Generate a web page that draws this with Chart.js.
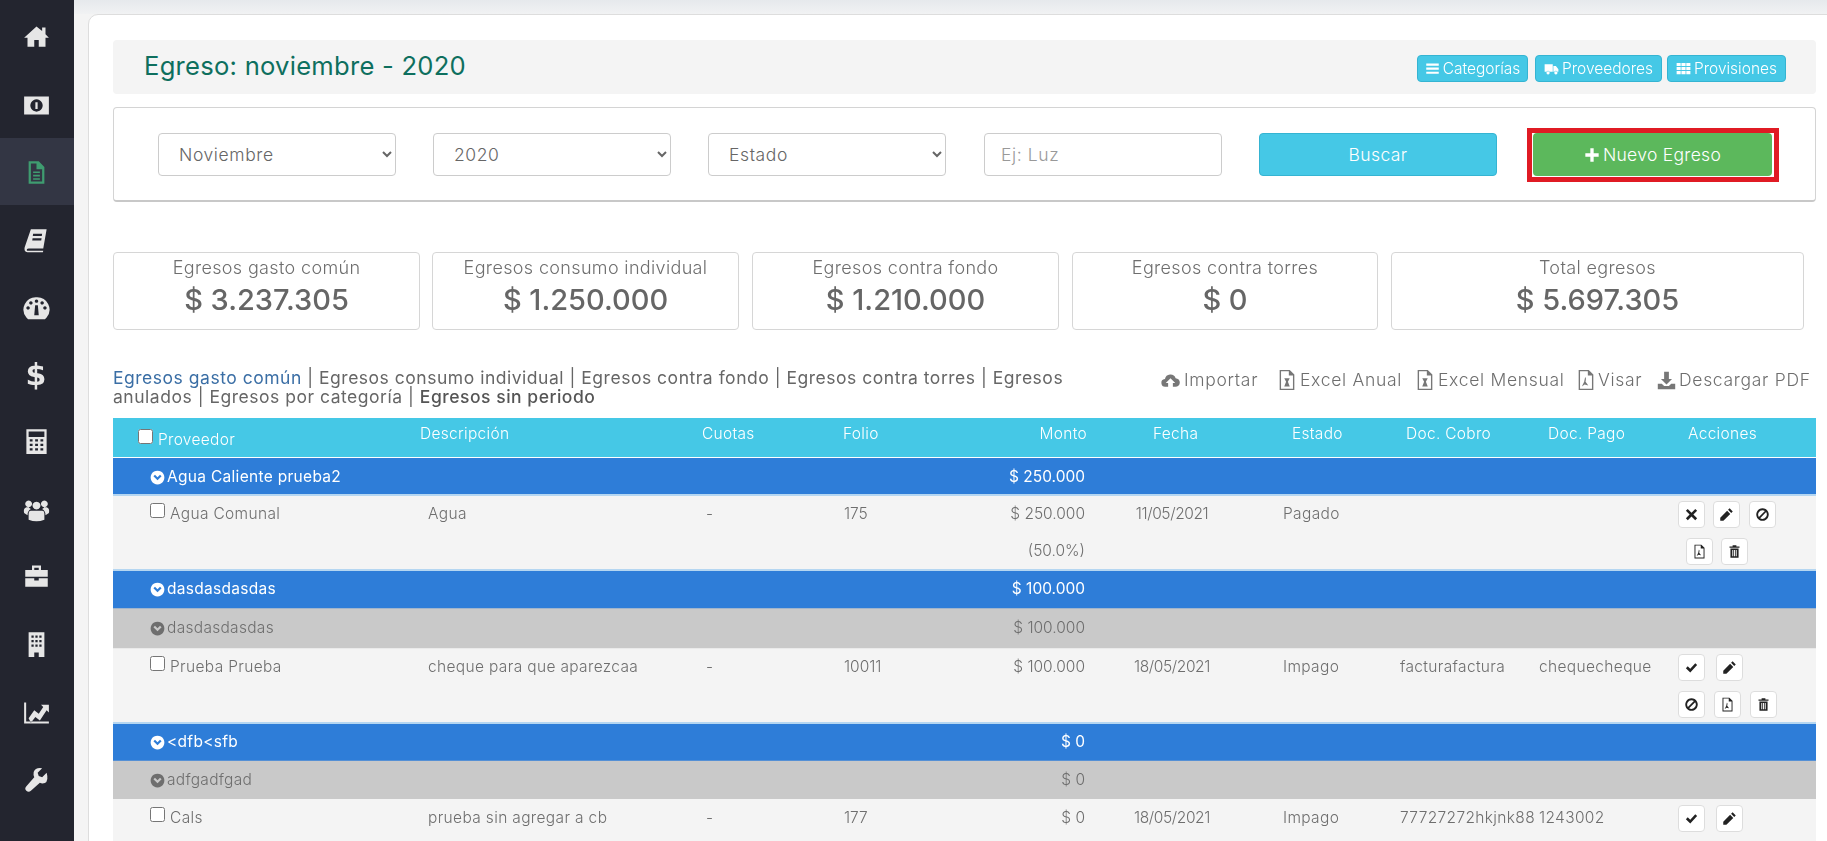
<!DOCTYPE html>
<html lang="es">
<head>
<meta charset="utf-8">
<title>Egreso: noviembre - 2020</title>
<script src="https://cdn.jsdelivr.net/npm/chart.js@4"></script>
<style>
html, body { margin: 0; width: 1827px; height: 841px; overflow: hidden; background: #f4f4f4; }
body { font-family: Inter, "Open Sans", sans-serif; font-weight: 300; color: #6e6e6e; position: relative; }
.abs, .t { position: absolute; }
.t { white-space: nowrap; transform: translateY(-50%); line-height: 1.2; }
.r { transform: translate(-100%, -50%); }
.c { transform: translate(-50%, -50%); }
.btn { position: absolute; border-radius: 4px; color: #fff; display: flex; align-items: center; justify-content: center; box-sizing: border-box; }
.info { background: #45c8e6; border: 1px solid #35b4d2; }
select, input[type=text] { position: absolute; box-sizing: border-box; height: 43px; width: 238px; top: 133px; font: 300 17.5px Inter, sans-serif; letter-spacing: .6px; color: #666; background: #fff; border: 1px solid #ccc; border-radius: 4px; padding-left: 16px; }
input[type=text]::placeholder { color: #999; }
.kpi { position: absolute; top: 252px; height: 78px; box-sizing: border-box; border: 1px solid #d6d6d6; border-radius: 4px; background: #fff; }
.acc { position: absolute; width: 27px; height: 27px; box-sizing: border-box; background: #fff; border: 1px solid #ddd; border-radius: 4px; display: flex; align-items: center; justify-content: center; }
input[type=checkbox] { position: absolute; margin: 0; width: 15px; height: 15px; }
</style>
</head>
<body>
<div class="abs" style="left:0;top:0;width:1827px;height:14px;background:linear-gradient(#e6e9ec,#f1f2f3)"></div>
<div class="abs" style="left:88px;top:14px;width:1760px;height:840px;background:#fff;border:1px solid #ddd;border-radius:10px 0 0 0;box-sizing:border-box"></div>
<div class="abs" style="left:0;top:0;width:74px;height:841px;background:#23252f"></div>
<div class="abs" style="left:0;top:138px;width:74px;height:67px;background:#333644"></div>
<div class="abs" style="left:113px;top:40px;width:1703px;height:54px;background:#f4f4f4;border-radius:4px"></div>
<div class="abs" style="left:113px;top:107px;width:1703px;height:95px;box-sizing:border-box;border:1px solid #d4d4d4;border-bottom:2px solid #c8c8c8;border-radius:4px;background:#fff"></div>
<div class="t" style="left:144px;top:66px;font-size:25.6px;font-weight:400;letter-spacing:.25px;color:#0e6f5e" id="titulo"></div>

<select style="left:158px"><option>Noviembre</option></select>
<select style="left:433px"><option>2020</option></select>
<select style="left:708px"><option>Estado</option></select>
<input type="text" placeholder="Ej: Luz" style="left:984px">
<div class="btn info" style="left:1259px;top:133px;width:238px;height:43px;font-size:17.5px;letter-spacing:.4px">Buscar</div>
<div class="abs" style="left:1527px;top:128px;width:252px;height:54px;box-sizing:border-box;border:5px solid #e01b24"></div>
<div class="btn" style="left:1533px;top:133px;width:239px;height:43px;background:#5cb85c;font-size:17.5px;letter-spacing:.3px" id="nuevo"></div>

<div class="abs" id="tablaHead" style="left:113px;top:418px;width:1703px;height:39px;background:#45c8e6"></div>
<canvas id="filas" class="abs" style="left:113px;top:458px" width="1703" height="383"></canvas>
<div class="abs" id="capa" style="left:0;top:0;width:1827px;height:841px;overflow:hidden"></div>

<script>
const titulo = 'Egreso: noviembre - 2020'
const kpiLabels = ['Egresos gasto común', 'Egresos consumo individual', 'Egresos contra fondo', 'Egresos contra torres', 'Total egresos']
const kpiValues = ['$ 3.237.305', '$ 1.250.000', '$ 1.210.000', '$ 0', '$ 5.697.305']
const columnas = ['Descripción', 'Cuotas', 'Folio', 'Fecha', 'Estado', 'Doc. Cobro', 'Doc. Pago', 'Acciones']

// one entry per table row, height is how many text lines the row has
const rowTypes = ['grupo', 'dato', 'grupo', 'sub', 'dato', 'grupo', 'sub', 'dato']
const rowLines = [1, 2, 1, 1.07, 2, 1, 1.02, 1.13]
const rowNames = ['Agua Caliente prueba2', 'Agua Comunal', 'dasdasdasdas', 'dasdasdasdas', 'Prueba Prueba', '<dfb<sfb', 'adfgadfgad', 'Cals']
const rowMontos = ['$ 250.000', '$ 250.000', '$ 100.000', '$ 100.000', '$ 100.000', '$ 0', '$ 0', '$ 0']
const rowDesc = ['', 'Agua', '', '', 'cheque para que aparezcaa', '', '', 'prueba sin agregar a cb']
const rowFolio = ['', '175', '', '', '10011', '', '', '177']
const rowFecha = ['', '11/05/2021', '', '', '18/05/2021', '', '', '18/05/2021']
const rowEstado = ['', 'Pagado', '', '', 'Impago', '', '', 'Impago']
const rowCobro = ['', '', '', '', 'facturafactura', '', '', '77727272hkjnk88']
const rowPago = ['', '', '', '', 'chequecheque', '', '', '1243002']

const rowColors = { grupo: '#2e7dd8', sub: '#c9c9c9', dato: '#f4f4f4' }

const chart = new Chart(document.getElementById('filas'), {
    type: 'bar',
    data: {
        labels: ['Tabla'],
        datasets: rowLines.map((v, i) => ({
            label: rowNames[i],
            data: [v],
            backgroundColor: rowColors[rowTypes[i]],
            borderWidth: 0,
            categoryPercentage: 1,
            barPercentage: 1
        }))
    },
    options: {
        responsive: false,
        animation: false,
        devicePixelRatio: 1,
        layout: { padding: 0 },
        plugins: { legend: { display: false }, tooltip: { enabled: false } },
        scales: {
            x: { stacked: true, display: false },
            y: { stacked: true, display: false, reverse: true, min: 0, max: rowLines.reduce((a, b) => a + b, 0) }
        }
    }
})

const capa = document.getElementById('capa')

function txt(x, y, s, css, cls) {
    const d = document.createElement('div')
    d.className = 't ' + (cls || '')
    d.textContent = s
    d.style.cssText = `left:${x}px;top:${y}px;` + (css || '')
    capa.appendChild(d)
    return d
}

const paths = {
    home: 'M12 3 1 13h3v8h6v-6h4v6h6v-8h3l-3-3V4h-3v3z',
    money: 'M1 4h22v16H1zM12 6.500a5.500 5.500 0 1 0 .01 0zM11 9h2v6h-2z',
    file: 'M5 2h9l5 5v15H5zM7 4v16h10V9h-5V4zM9 11h6v1.500H9zM9 14h6v1.500H9zM9 17h6v1.500H9z',
    book: 'M7 2h14l-3 17H5q-2 0-1.500 2H18l-.3 1.500H4Q.5 22 1.500 18zM9 6l-.3 2h8l.3-2zM8.500 10l-.3 2h8l.3-2z',
    gauge: 'M12 2a11 11 0 0 0-9 18l1.500 1.500h15L21 20a11 11 0 0 0-9-18zM7 5.500a1.500 1.500 0 1 0 .01 0zM12 4a1.500 1.500 0 1 0 .01 0zM17 5.500a1.500 1.500 0 1 0 .01 0zM4.500 10a1.500 1.500 0 1 0 .01 0zM19.500 10a1.500 1.500 0 1 0 .01 0zM10.800 9h2.400l.8 9h-4z',
    calc: 'M3 1h18v22H3zM5 3v5h14V3zM6 10v2h2.500v-2zM10.800 10v2h2.500v-2zM15.500 10v2H18v-2zM6 14v2h2.500v-2zM10.800 14v2h2.500v-2zM15.500 14v2H18v-2zM6 18v2h2.500v-2zM10.800 18v2h2.500v-2zM15.500 18v2H18v-2z',
    users: 'M12 5a3.500 3.500 0 1 0 .01 0zM5 4a3 3 0 1 0 .01 0zM19 4a3 3 0 1 0 .01 0zM7 13h10q2 0 2 3v5q-7 3-14 0v-5q0-3 2-3zM1 15q-1-4 2-5h2q1 1 2 1.500Q4 13 4 17zM23 15q1-4-2-5h-2q-1 1-2 1.500 3 1.500 3 5.500z',
    case: 'M8 3h8v4h6v6H2V7h6zM10 5v2h4V5zM2 14.500h8v2h4v-2h8V22H2z',
    building: 'M5 1h14v22h-5v-4h-4v4H5zM7.500 4v2h2V4zM11 4v2h2V4zM14.500 4v2h2V4zM7.500 8v2h2V8zM11 8v2h2V8zM14.500 8v2h2V8zM7.500 12v2h2v-2zM11 12v2h2v-2zM14.500 12v2h2v-2z',
    linechart: 'M1 3h1.800v17H23v1.800H1zM5 17l5-7 4 3 4-6-2-2h7v7l-2-2-6 9-4-3-4 5z',
    wrench: 'M21 5l-4 4-3-1-1-3 4-4q-6-1-7.500 3.500Q9 7 10 9L3 17q-2 2 0 4t4 0l8-7q2 1 4.500.2Q23 12 21 5z',
    bars: 'M2 4h20v3.500H2zM2 10.500h20V14H2zM2 17h20v3.500H2z',
    truck: 'M1 5h13v12H9a3 3 0 0 0-5 0H1zM15 8h4l4 5v4h-1.500a3 3 0 0 0-5 0H15zM6.500 16.500a2.500 2.500 0 1 0 .01 0zM19 16.500a2.500 2.500 0 1 0 .01 0z',
    th: 'M1 3h6.500v5H1zM8.700 3h6.600v5H8.700zM16.500 3H23v5h-6.500zM1 9.500h6.500v5H1zM8.700 9.500h6.600v5H8.700zM16.500 9.500H23v5h-6.500zM1 16h6.500v5H1zM8.700 16h6.600v5H8.700zM16.500 16H23v5h-6.500z',
    plus: 'M9.500 2h5v7.500H22v5h-7.500V22h-5v-7.500H2v-5h7.500z',
    cloud: 'M6 20a5 5 0 0 1-1-10 7 7 0 0 1 13.500-1A5.500 5.500 0 0 1 18 20h-3v-5h3l-6-6-6 6h3v5z',
    doc: 'M4 1h11l5 5v17H4zM5.500 2.500v19h13V7H14V2.500zM9 10h6l-2 4 2 5H9l2-5z',
    pdf: 'M4 1h11l5 5v17H4zM5.500 2.500v19h13V7H14V2.500zM11 9q1.500 0 .5 5l3 4-4-1-3 2 2.500-5z',
    down: 'M9 1h6v9h4l-7 7-7-7h4zM1 16h5l3 3h6l3-3h5v7H1z',
    caret: 'M12 1a11 11 0 1 0 .01 0zM5.500 10 8 7.500l4 4 4-4 2.500 2.500L12 16.500z',
    x: 'M6 3 12 9l6-6 3 3-6 6 6 6-3 3-6-6-6 6-3-3 6-6-6-6z',
    pencil: 'M17 2l5 5-2.500 2.500-5-5zM13 6l5 5-11 11H2v-5z',
    ban: 'M12 2a10 10 0 1 0 .01 0zM12 5q2 0 3.800 1.200L6.200 15.800A7 7 0 0 1 12 5zM12 19q-2 0-3.800-1.200l9.600-9.600A7 7 0 0 1 12 19z',
    trash: 'M9 2h6v2h5v2H4V4h5zM5.500 7h13v15h-13zM8.500 9.500v10H10v-10zM11.300 9.500v10h1.500v-10zM14 9.500v10h1.500v-10z',
    check: 'M3 13l3-3 4 4 8-9 3 3-11 12z'
}

function icon(name, x, y, size, color, parent) {
    const ns = 'http://www.w3.org/2000/svg'
    const s = document.createElementNS(ns, 'svg')
    s.setAttribute('viewBox', '0 0 24 24')
    s.setAttribute('width', size)
    s.setAttribute('height', size)
    if (x !== null) s.style.cssText = `position:absolute;left:${x - size / 2}px;top:${y - size / 2}px`
    const p = document.createElementNS(ns, 'path')
    p.setAttribute('d', paths[name])
    p.setAttribute('fill', color)
    p.setAttribute('fill-rule', 'evenodd')
    s.appendChild(p)
    ;(parent || capa).appendChild(s)
}

// sidebar
const side = ['home', 'money', 'file', 'book', 'gauge', null, 'calc', 'users', 'case', 'building', 'linechart', 'wrench']
const sideY = [36, 105, 172, 240, 308, 374, 441, 509, 575, 644, 712, 780]
side.forEach((n, i) => {
    if (n) icon(n, 36, sideY[i], 27, n === 'file' ? '#3f9c70' : '#e6e6e6')
    else txt(36, sideY[i], '$', 'font:700 30px "DejaVu Sans";color:#e6e6e6', 'c')
})

document.getElementById('titulo').textContent = titulo

// top buttons
const topBtns = [['bars', 'Categorías', 1417, 111], ['truck', 'Proveedores', 1535, 127], ['th', 'Provisiones', 1667, 119]]
topBtns.forEach(b => {
    const d = document.createElement('div')
    d.className = 'btn info'
    d.style.cssText = `left:${b[2]}px;top:55px;width:${b[3]}px;height:27px;font-size:15.5px;gap:3px`
    icon(b[0], null, null, 15, '#fff', d)
    d.appendChild(document.createTextNode(b[1]))
    capa.appendChild(d)
})
const nuevo = document.getElementById('nuevo')
nuevo.style.gap = '3px'
icon('plus', null, null, 16, '#fff', nuevo)
nuevo.appendChild(document.createTextNode('Nuevo Egreso'))

// kpi cards
const kpiX = [113, 432, 752, 1072, 1391]
const kpiW = [307, 307, 307, 306, 413]
kpiLabels.forEach((l, i) => {
    const d = document.createElement('div')
    d.className = 'kpi'
    d.style.cssText = `left:${kpiX[i]}px;width:${kpiW[i]}px`
    capa.appendChild(d)
    txt(kpiX[i] + kpiW[i] / 2, 268, l, 'font-size:18px;letter-spacing:.35px', 'c')
    txt(kpiX[i] + kpiW[i] / 2, 300, kpiValues[i], 'font-size:29px;font-weight:500;color:#666', 'c')
})

// links
const cssLink = 'font-size:17.5px;font-weight:400;color:#666;letter-spacing:.52px'
const l1 = txt(113, 377, '', cssLink)
l1.innerHTML = '<span style="color:#3a6ea5">Egresos gasto común</span> | Egresos consumo individual | Egresos contra fondo | Egresos contra torres | Egresos'
const l2 = txt(113, 396, '', cssLink)
l2.innerHTML = 'anulados | Egresos por categoría | <span style="font-weight:500;color:#555">Egresos sin periodo</span>'

const acciones = [['cloud', 'Importar', 1170, 1184], ['doc', 'Excel Anual', 1287, 1300], ['doc', 'Excel Mensual', 1425, 1438], ['pdf', 'Visar', 1586, 1598], ['down', 'Descargar PDF', 1666, 1679]]
acciones.forEach(a => {
    icon(a[0], a[2], 380, a[0] === 'doc' || a[0] === 'pdf' ? 22 : 19, '#777')
    txt(a[3], 379, a[1], 'font-size:17.5px;letter-spacing:.7px')
})

// table head
const headX = [420, 702, 843, 1153, 1292, 1406, 1548, 1688]
const cssHead = 'font-size:15.5px;color:#fff;letter-spacing:.3px'
columnas.forEach((c, i) => txt(headX[i], 434, c, cssHead))
txt(158, 440, 'Proveedor', cssHead)
txt(1087, 434, 'Monto', cssHead, 'r')
const chkHead = document.createElement('input')
chkHead.type = 'checkbox'
chkHead.style.cssText = 'left:138px;top:429px'
capa.appendChild(chkHead)

// rows sit on the bands the chart has drawn
const yScale = chart.scales.y
const topCanvas = 458
const actionBtns = {
    1: [[['x', 1678], ['pencil', 1713], ['ban', 1749]], [['pdf', 1686], ['trash', 1721]]],
    4: [[['check', 1678], ['pencil', 1716]], [['ban', 1678], ['pdf', 1714], ['trash', 1750]]],
    7: [[['check', 1678], ['pencil', 1716]]]
}

function linea(y) {
    const d = document.createElement('div')
    d.className = 'abs'
    d.style.cssText = `left:113px;top:${y}px;width:1703px;height:2px;background:#b5d6f1`
    capa.appendChild(d)
}

let acum = 0
rowTypes.forEach((tipo, i) => {
    const y0 = Math.round(topCanvas + yScale.getPixelForValue(acum))
    acum += rowLines[i]
    if (tipo !== 'dato') {
        const yc = y0 + (tipo === 'sub' ? 20 : 19)
        const col = tipo === 'grupo' ? '#fff' : '#6e6e6e'
        const w = tipo === 'grupo' ? 400 : 300
        if (tipo === 'grupo' && i > 0) linea(y0 - 1)
        icon('caret', 157, yc, 15, col)
        txt(167, yc, rowNames[i], `font-size:15.5px;font-weight:${w};color:${col};letter-spacing:.3px`)
        txt(1085, yc, rowMontos[i], `font-size:15.5px;font-weight:${w};color:${col}`, 'r')
        return
    }
    const yc = y0 + 19
    if (rowTypes[i - 1] === 'grupo') linea(y0 - 1)
    const chk = document.createElement('input')
    chk.type = 'checkbox'
    chk.style.cssText = `left:150px;top:${y0 + 8}px;background:#fff`
    capa.appendChild(chk)
    const css = 'font-size:15.5px;letter-spacing:.35px'
    txt(170, yc, rowNames[i], css)
    txt(428, yc, rowDesc[i], css)
    txt(706, yc, '-', css)
    txt(844, yc, rowFolio[i], 'font-size:15.5px')
    txt(1085, yc, rowMontos[i], 'font-size:15.5px', 'r')
    txt(1172, yc, rowFecha[i], 'font-size:15.5px;letter-spacing:-.4px', 'c')
    txt(1283, yc, rowEstado[i], css)
    txt(1400, yc, rowCobro[i], css)
    txt(1539, yc, rowPago[i], css)
    if (i === 1) txt(1085, y0 + 56, '(50.0%)', 'font-size:15.5px', 'r')
    actionBtns[i].forEach((fila, f) => {
        fila.forEach(b => {
            const d = document.createElement('div')
            d.className = 'acc'
            d.style.cssText = `left:${b[1]}px;top:${y0 + 6 + f * 37}px`
            icon(b[0], null, null, 15, '#222', d)
            capa.appendChild(d)
        })
    })
})
</script>
</body>
</html>
